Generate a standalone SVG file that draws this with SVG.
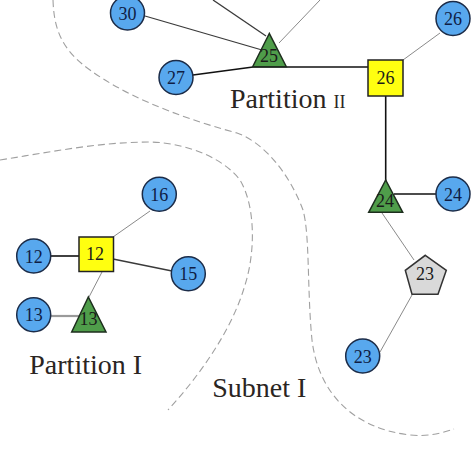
<svg xmlns="http://www.w3.org/2000/svg" width="474" height="474" viewBox="0 0 474 474">
<style>
.c{fill:#58a8ee;stroke:#1c2c48;stroke-width:1.5}
.t{fill:#4f9d4a;stroke:#1e2e1e;stroke-width:1.5}
.s{fill:#ffff10;stroke:#222;stroke-width:1.5}
.p{fill:#d9d9d9;stroke:#333;stroke-width:1.5}
.l{font-family:"Liberation Serif","Times New Roman",serif;font-size:18px;text-anchor:middle;fill:#0f1d44}
.lk{font-family:"Liberation Serif","Times New Roman",serif;font-size:18px;text-anchor:middle;fill:#1a1a1a}
.big{font-family:"Liberation Serif","Times New Roman",serif;font-size:28px;fill:#2a2522}
.b{fill:none;stroke:#a0a0a0;stroke-width:1.1;stroke-dasharray:7 4}
.k{stroke:#111;stroke-width:1.6;fill:none}
.d{stroke:#3a3a3a;stroke-width:1.3;fill:none}
.g{stroke:#8a8a8a;stroke-width:1;fill:none}
</style>
<rect width="474" height="474" fill="#fff"/>
<g id="boundaries">
<path class="b" d="M53,0 C54,30 62,50 90,70 C120,92 170,115 237,133 C265,143 290,175 303,210 C310,235 307,290 312,340 C318,390 350,428 410,435 C430,437 445,432 454,429"/>
<path class="b" d="M0,160 C50,152 100,142 150,142 C190,143 225,160 240,180 C255,205 256,250 245,285 C232,330 200,375 168,410"/>
</g>
<g id="connectors">
<line class="d" x1="213" y1="0" x2="266" y2="36"/>
<line class="g" x1="279" y1="43" x2="320" y2="0"/>
<line class="d" x1="145" y1="16" x2="262" y2="50"/>
<line class="k" x1="193" y1="75" x2="253" y2="67"/>
<line class="k" x1="253" y1="67" x2="368" y2="67"/>
<line class="g" x1="403" y1="60" x2="440" y2="33"/>
<line class="k" x1="385.7" y1="96" x2="385.7" y2="181"/>
<line class="k" x1="394" y1="194" x2="436" y2="194"/>
<line class="g" x1="382" y1="213" x2="414" y2="260"/>
<line class="g" x1="412" y1="295" x2="380" y2="352"/>
<line class="k" x1="50" y1="256" x2="79" y2="256"/>
<line class="g" x1="113" y1="237" x2="150" y2="211"/>
<line class="d" x1="113" y1="259" x2="172" y2="271"/>
<line class="g" x1="102" y1="272" x2="89" y2="297"/>
<line stroke="#9a9a9a" stroke-width="2.2" x1="50" y1="316" x2="80" y2="316"/>
</g>
<g id="n30"><circle class="c" cx="127.5" cy="13" r="17"/><text class="l" x="127.5" y="19.5">30</text></g>
<g id="n27"><circle class="c" cx="176" cy="77.5" r="17"/><text class="l" x="176" y="84">27</text></g>
<g id="n25"><polygon class="t" points="269.3,33.5 252.7,66.7 286.3,66.7"/><text class="lk" x="269" y="62">25</text></g>
<g id="n26s"><rect class="s" x="368" y="60" width="35" height="36"/><text class="lk" x="385.5" y="84">26</text></g>
<g id="n26c"><circle class="c" cx="453" cy="18.5" r="17"/><text class="l" x="453" y="25">26</text></g>
<g id="n24t"><polygon class="t" points="385.7,180 368.7,212.3 402.7,212.3"/><text class="lk" x="385" y="206.5">24</text></g>
<g id="n24c"><circle class="c" cx="453" cy="194" r="17"/><text class="l" x="453" y="200.5">24</text></g>
<g id="n23p"><polygon class="p" points="425.3,255.3 446.3,270.3 438,294.3 412,294.3 405.3,270.3"/><text class="lk" x="425" y="280">23</text></g>
<g id="n23c"><circle class="c" cx="362.7" cy="356" r="17"/><text class="l" x="362.7" y="362.5">23</text></g>
<g id="n16"><circle class="c" cx="159.3" cy="194.3" r="17"/><text class="l" x="159.3" y="200.8">16</text></g>
<g id="n12s"><rect class="s" x="79" y="237" width="34.5" height="34.5"/><text class="lk" x="95" y="259.5">12</text></g>
<g id="n12c"><circle class="c" cx="33.7" cy="256" r="17"/><text class="l" x="33.7" y="262.5">12</text></g>
<g id="n15"><circle class="c" cx="188.3" cy="273.7" r="17"/><text class="l" x="188.3" y="280.2">15</text></g>
<g id="n13c"><circle class="c" cx="33.7" cy="314.7" r="17"/><text class="l" x="33.7" y="321.2">13</text></g>
<g id="n13t"><polygon class="t" points="88.3,297 71.7,332 106,332"/><text class="lk" x="88.5" y="324.5">13</text></g>
<g id="labels">
<text class="big" x="230" y="108.3">Partition <tspan font-size="18">II</tspan></text>
<text class="big" x="29.3" y="373.7">Partition I</text>
<text class="big" x="212.3" y="397">Subnet I</text>
</g>
</svg>
